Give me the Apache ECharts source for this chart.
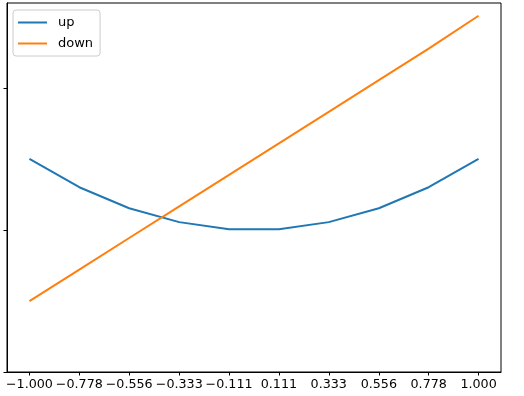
<!DOCTYPE html>
<html>
<head>
<meta charset="utf-8">
<script src="https://cdn.jsdelivr.net/npm/echarts@6/dist/echarts.min.js"></script>
<style>html,body{margin:0;padding:0;background:#fff}#c{width:524px;height:396px}</style>
</head>
<body>
<div id="c"></div>
<script>
var xValues = [-1.0, -0.778, -0.556, -0.333, -0.111, 0.111, 0.333, 0.556, 0.778, 1.0];
var xTickLabels = ['−1.000', '−0.778', '−0.556', '−0.333', '−0.111', '0.111', '0.333', '0.556', '0.778', '1.000'];
var upValues = [0.502, 0.302, 0.154, 0.056, 0.006, 0.006, 0.056, 0.154, 0.302, 0.502];
var downValues = [-0.5, -0.278, -0.056, 0.167, 0.389, 0.611, 0.833, 1.056, 1.278, 1.51];
var yTicks = [-1, 0, 1];

function pairs(xs, ys) { return xs.map(function (x, i) { return [x, ys[i]]; }); }

var chart = echarts.init(document.getElementById('c'), null, {renderer: 'canvas'});
chart.setOption({
  animation: false,
  textStyle: {fontFamily: 'DejaVu Sans', color: '#000'},
  grid: {left: 7, right: 23, top: 3, bottom: 24, show: true, borderColor: '#000', borderWidth: 1, containLabel: false},
  legend: {
    orient: 'vertical', left: 13, top: 10,
    padding: [5, 7, 5, 5], itemGap: 6,
    itemWidth: 29, itemHeight: 2, icon: 'rect',
    borderColor: '#cccccc', borderWidth: 1, borderRadius: 3, backgroundColor: 'rgba(255,255,255,0.8)',
    textStyle: {fontSize: 13, lineHeight: 15, color: '#000', fontFamily: 'DejaVu Sans', padding: [0, 0, 0, 6]},
    data: ['up', 'down']
  },
  xAxis: {
    type: 'value', min: -1.1, max: 1.1,
    splitLine: {show: false},
    axisLine: {show: true, onZero: false, lineStyle: {color: '#000', width: 1}},
    axisTick: {show: true, length: 3.5, lineStyle: {color: '#000', width: 1}, customValues: xValues},
    axisLabel: {
      show: true, margin: 6, fontSize: 12.7, color: '#000', fontFamily: 'DejaVu Sans',
      customValues: xValues,
      formatter: function (v) {
        var idx = xValues.indexOf(v);
        return idx >= 0 ? xTickLabels[idx] : '';
      }
    }
  },
  yAxis: {
    type: 'value', min: -1, max: 1.6,
    splitLine: {show: false},
    axisLine: {show: true, onZero: false, lineStyle: {color: '#000', width: 1}},
    axisTick: {show: true, length: 3.5, lineStyle: {color: '#000', width: 1}, customValues: yTicks},
    axisLabel: {show: false}
  },
  series: [
    {name: 'up', type: 'line', data: pairs(xValues, upValues), showSymbol: false, symbol: 'none',
     lineStyle: {color: '#1f77b4', width: 2}, itemStyle: {color: '#1f77b4'}},
    {name: 'down', type: 'line', data: pairs(xValues, downValues), showSymbol: false, symbol: 'none',
     lineStyle: {color: '#ff7f0e', width: 2}, itemStyle: {color: '#ff7f0e'}}
  ]
});
</script>
</body>
</html>
